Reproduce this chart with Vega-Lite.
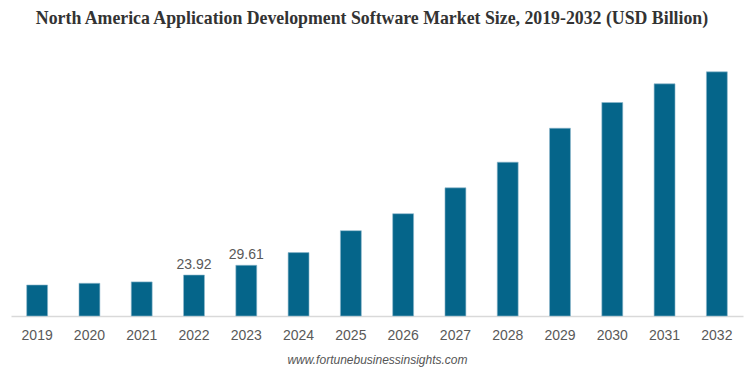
{
  "$schema": "https://vega.github.io/schema/vega-lite/v6.json",
  "width": 732,
  "height": 257,
  "autosize": {"type": "none"},
  "padding": {"left": 11, "top": 59, "right": 2, "bottom": 56},
  "background": "white",
  "title": {
    "text": "North America Application Development Software Market Size, 2019-2032 (USD Billion)",
    "font": "Liberation Serif",
    "fontSize": 17.8,
    "fontWeight": "bold",
    "color": "#333333",
    "anchor": "middle",
    "dx": -5,
    "offset": 27
  },
  "data": {
    "values": [
      {"year": "2019", "value": 18.1, "label": ""},
      {"year": "2020", "value": 19.1, "label": ""},
      {"year": "2021", "value": 19.9, "label": ""},
      {"year": "2022", "value": 23.92, "label": "23.92"},
      {"year": "2023", "value": 29.61, "label": "29.61"},
      {"year": "2024", "value": 37.0, "label": ""},
      {"year": "2025", "value": 49.8, "label": ""},
      {"year": "2026", "value": 59.7, "label": ""},
      {"year": "2027", "value": 74.8, "label": ""},
      {"year": "2028", "value": 89.8, "label": ""},
      {"year": "2029", "value": 109.6, "label": ""},
      {"year": "2030", "value": 124.6, "label": ""},
      {"year": "2031", "value": 135.5, "label": ""},
      {"year": "2032", "value": 142.5, "label": ""}
    ]
  },
  "encoding": {
    "x": {
      "field": "year",
      "type": "ordinal",
      "scale": {"paddingInner": 0.6, "paddingOuter": 0.3},
      "axis": {
        "title": "www.fortunebusinessinsights.com",
        "titleFont": "Liberation Sans",
        "titleFontStyle": "italic",
        "titleFontWeight": "normal",
        "titleFontSize": 12,
        "titleColor": "#555555",
        "titlePadding": 12,
        "labelAngle": 0,
        "labelFont": "Liberation Sans",
        "labelFontSize": 14,
        "labelColor": "#595959",
        "labelPadding": 12,
        "ticks": false,
        "domainColor": "#d9d9d9",
        "domainWidth": 1.5,
        "grid": false
      }
    },
    "y": {
      "field": "value",
      "type": "quantitative",
      "scale": {"domain": [0, 150]},
      "axis": null
    }
  },
  "layer": [
    {"mark": {"type": "bar", "color": "#05658A", "stroke": "#8fb9cc", "strokeWidth": 0.6}},
    {
      "mark": {"type": "text", "dy": -10, "font": "Liberation Sans", "fontSize": 14, "color": "#595959"},
      "encoding": {"text": {"field": "label"}}
    }
  ],
  "config": {"view": {"stroke": null}}
}
